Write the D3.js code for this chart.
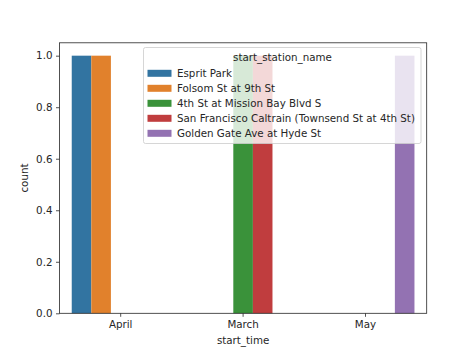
<!DOCTYPE html>
<html>
<head>
<meta charset="utf-8">
<script src="https://cdn.jsdelivr.net/npm/d3@7"></script>
<style>
    body { margin: 0; background: #fff; }
    text { font-family: "DejaVu Sans", sans-serif; fill: #262626; }
</style>
</head>
<body>
<div id="chart"></div>
<script>
// data
const months = ['April', 'March', 'May'];
const stations = [
    'Esprit Park',
    'Folsom St at 9th St',
    '4th St at Mission Bay Blvd S',
    'San Francisco Caltrain (Townsend St at 4th St)',
    'Golden Gate Ave at Hyde St'
];
// counts per month, one entry per station (same order as stations)
const countsApril = [1, 1, 0, 0, 0];
const countsMarch = [0, 0, 1, 1, 0];
const countsMay = [0, 0, 0, 0, 1];
const yTicks = [0, 0.2, 0.4, 0.6, 0.8, 1.0];

const colors = ['#3274a1', '#e1812c', '#3a923a', '#c03d3e', '#9372b2'];

const dimensions = { width: 474, height: 352 };
const margin = { top: 42.8, right: 47.3, bottom: 38.7, left: 59.5 };
const graphWidth = dimensions.width - margin.left - margin.right;
const graphHeight = dimensions.height - margin.top - margin.bottom;

const svg = d3.select('#chart')
    .append('svg')
    .attr('width', dimensions.width)
    .attr('height', dimensions.height);

const graph = svg.append('g')
    .attr('transform', `translate(${margin.left}, ${margin.top})`);

const rows = [
    { month: 'April', counts: countsApril },
    { month: 'March', counts: countsMarch },
    { month: 'May', counts: countsMay }
];

// scales
const x = d3.scaleBand().domain(months).range([0, graphWidth]).paddingInner(0).paddingOuter(0);
const x1 = d3.scaleBand().domain(stations).range([x.bandwidth() * 0.1, x.bandwidth() * 0.9]);
const y = d3.scaleLinear().domain([0, 1.05]).range([graphHeight, 0]);

// bars
rows.forEach(row => {
    graph.append('g')
        .attr('transform', `translate(${x(row.month)}, 0)`)
        .selectAll('rect')
        .data(row.counts.map((c, i) => ({ station: stations[i], count: c, i })))
        .enter()
        .append('rect')
            .attr('x', d => x1(d.station))
            .attr('y', d => y(d.count))
            .attr('width', x1.bandwidth())
            .attr('height', d => graphHeight - y(d.count))
            .attr('fill', d => colors[d.i]);
});

// axes
const xAxis = d3.axisBottom(x).tickSize(3.5).tickPadding(3.5);
const yAxis = d3.axisLeft(y).tickValues(yTicks).tickFormat(d3.format('.1f')).tickSize(3.5).tickPadding(3.5);

const xAxisGroup = graph.append('g')
    .attr('transform', `translate(0, ${graphHeight})`)
    .call(xAxis);
const yAxisGroup = graph.append('g').call(yAxis);

[xAxisGroup, yAxisGroup].forEach(g => {
    g.select('.domain').remove();
    g.selectAll('text').style('font-size', '10.3px').attr('fill', '#262626');
    g.selectAll('line').attr('stroke', '#262626').attr('stroke-width', 0.8);
});

// frame
graph.append('rect')
    .attr('width', graphWidth)
    .attr('height', graphHeight)
    .attr('fill', 'none')
    .attr('stroke', '#262626')
    .attr('stroke-width', 0.8);

// axis labels
svg.append('text')
    .attr('x', margin.left + graphWidth / 2)
    .attr('y', 344)
    .attr('text-anchor', 'middle')
    .style('font-size', '10.3px')
    .text('start_time');

svg.append('text')
    .attr('transform', `translate(28, ${margin.top + graphHeight / 2}) rotate(-90)`)
    .attr('text-anchor', 'middle')
    .style('font-size', '10.3px')
    .text('count');

// legend
const legend = svg.append('g');
legend.append('rect')
    .attr('x', 143.5)
    .attr('y', 47.5)
    .attr('width', 277.5)
    .attr('height', 96)
    .attr('rx', 2)
    .attr('fill', 'rgba(255,255,255,0.8)')
    .attr('stroke', '#cccccc')
    .attr('stroke-width', 0.8);

legend.append('text')
    .attr('x', 282.5)
    .attr('y', 60.5)
    .attr('text-anchor', 'middle')
    .style('font-size', '10.3px')
    .text('start_station_name');

stations.forEach((s, i) => {
    const cy = 73.3 + i * 15;
    legend.append('rect')
        .attr('x', 147.5)
        .attr('y', cy - 3.5)
        .attr('width', 24)
        .attr('height', 7)
        .attr('fill', colors[i]);
    legend.append('text')
        .attr('x', 177)
        .attr('y', cy + 3.7)
        .style('font-size', '10.3px')
        .text(s);
});
</script>
</body>
</html>
